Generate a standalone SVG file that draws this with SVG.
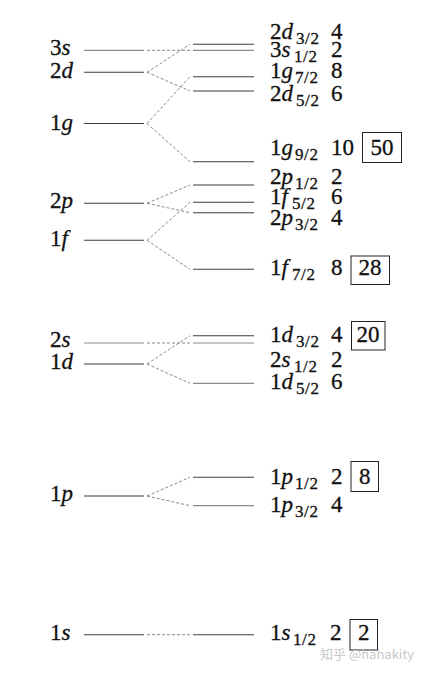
<svg xmlns="http://www.w3.org/2000/svg" width="429" height="675" viewBox="0 0 429 675">
<style>
.t text{font-family:'Liberation Serif','DejaVu Serif','Times New Roman',serif;font-size:23px;fill:#111;stroke:#111;stroke-width:0.3}
.it{font-style:italic}
.sub{font-size:17px;font-style:normal;letter-spacing:0.6px}
.lv{stroke:#3c3c3c;stroke-width:1.1;fill:none}
.lt{stroke:#8c8c8c;stroke-width:1.2;fill:none}
.dash{stroke:#6a6a6a;stroke-width:0.8;stroke-dasharray:3 2;fill:none}
.box{stroke:#222;stroke-width:1;fill:none}
.wm{font-family:'Noto Sans CJK SC','Liberation Sans',sans-serif;font-size:13px;fill:#c8c8c8}
</style>
<rect width="429" height="675" fill="#fff"/>

<g class="t">
<!-- left (unsplit) levels -->
<g id="L-3s"><line class="lt" x1="84" y1="50.3" x2="144" y2="50.3"/><text x="50" y="55">3<tspan class="it">s</tspan></text></g>
<g id="L-2d"><line class="lv" x1="84" y1="72.3" x2="144" y2="72.3"/><text x="50" y="78">2<tspan class="it">d</tspan></text></g>
<g id="L-1g"><line class="lv" x1="84" y1="123.5" x2="144" y2="123.5"/><text x="50" y="130">1<tspan class="it">g</tspan></text></g>
<g id="L-2p"><line class="lv" x1="84" y1="203.3" x2="144" y2="203.3"/><text x="50" y="208">2<tspan class="it">p</tspan></text></g>
<g id="L-1f"><line class="lv" x1="84" y1="240.3" x2="144" y2="240.3"/><text x="50" y="245.5">1<tspan class="it">f</tspan></text></g>
<g id="L-2s"><line class="lt" x1="84" y1="343" x2="144" y2="343"/><text x="50" y="347">2<tspan class="it">s</tspan></text></g>
<g id="L-1d"><line class="lv" x1="84" y1="364" x2="144" y2="364"/><text x="50" y="369">1<tspan class="it">d</tspan></text></g>
<g id="L-1p"><line class="lv" x1="84" y1="496" x2="144" y2="496"/><text x="50" y="501">1<tspan class="it">p</tspan></text></g>
<g id="L-1s"><line class="lv" x1="84" y1="634.7" x2="144" y2="634.7"/><text x="50" y="640">1<tspan class="it">s</tspan></text></g>

<!-- right (split) levels -->
<g id="R-2d32"><line class="lv" x1="193" y1="44.3" x2="254" y2="44.3"/><text x="270" y="39">2<tspan class="it">d</tspan><tspan class="sub" x="296" dy="5">3/2</tspan></text><text x="331" y="39">4</text></g>
<g id="R-3s12"><line class="lt" x1="193" y1="50.3" x2="254" y2="50.3"/><text x="270" y="57">3<tspan class="it">s</tspan><tspan class="sub" x="294" dy="5">1/2</tspan></text><text x="331" y="57">2</text></g>
<g id="R-1g72"><line class="lv" x1="193" y1="76.7" x2="254" y2="76.7"/><text x="270" y="78">1<tspan class="it">g</tspan><tspan class="sub" x="295" dy="5">7/2</tspan></text><text x="331" y="78">8</text></g>
<g id="R-2d52"><line class="lv" x1="193" y1="91" x2="254" y2="91"/><text x="270" y="101">2<tspan class="it">d</tspan><tspan class="sub" x="296" dy="5">5/2</tspan></text><text x="331" y="101">6</text></g>
<g id="R-1g92"><line class="lv" x1="193" y1="161.7" x2="254" y2="161.7"/><text x="270" y="155">1<tspan class="it">g</tspan><tspan class="sub" x="295" dy="5">9/2</tspan></text><text x="331" y="155">10</text><rect class="box" x="362.5" y="132.5" width="39" height="30"/><text x="382" y="155" text-anchor="middle">50</text></g>
<g id="R-2p12"><line class="lv" x1="193" y1="185" x2="254" y2="185"/><text x="270" y="183.5">2<tspan class="it">p</tspan><tspan class="sub" x="295" dy="5">1/2</tspan></text><text x="331" y="183.5">2</text></g>
<g id="R-1f52"><line class="lv" x1="193" y1="202.3" x2="254" y2="202.3"/><text x="270" y="204">1<tspan class="it">f</tspan><tspan class="sub" x="292" dy="5">5/2</tspan></text><text x="331" y="204">6</text></g>
<g id="R-2p32"><line class="lv" x1="193" y1="212.7" x2="254" y2="212.7"/><text x="270" y="225">2<tspan class="it">p</tspan><tspan class="sub" x="295" dy="5">3/2</tspan></text><text x="331" y="225">4</text></g>
<g id="R-1f72"><line class="lv" x1="193" y1="269.3" x2="254" y2="269.3"/><text x="270" y="275">1<tspan class="it">f</tspan><tspan class="sub" x="292" dy="5">7/2</tspan></text><text x="331" y="275">8</text><rect class="box" x="351" y="256" width="38.5" height="28.5"/><text x="370" y="275" text-anchor="middle">28</text></g>
<g id="R-1d32"><line class="lv" x1="193" y1="335.7" x2="254" y2="335.7"/><text x="270" y="342">1<tspan class="it">d</tspan><tspan class="sub" x="296" dy="5">3/2</tspan></text><text x="331" y="342">4</text><rect class="box" x="351.5" y="321.5" width="33.5" height="28.5"/><text x="368" y="342" text-anchor="middle">20</text></g>
<g id="R-2s12"><line class="lt" x1="193" y1="343" x2="254" y2="343"/><text x="270" y="366.5">2<tspan class="it">s</tspan><tspan class="sub" x="294" dy="5">1/2</tspan></text><text x="331" y="366.5">2</text></g>
<g id="R-1d52"><line class="lt" x1="193" y1="383.3" x2="254" y2="383.3"/><text x="270" y="389">1<tspan class="it">d</tspan><tspan class="sub" x="296" dy="5">5/2</tspan></text><text x="331" y="389">6</text></g>
<g id="R-1p12"><line class="lv" x1="193" y1="477.3" x2="254" y2="477.3"/><text x="270" y="484">1<tspan class="it">p</tspan><tspan class="sub" x="295" dy="5">1/2</tspan></text><text x="331" y="484">2</text><rect class="box" x="351" y="461.5" width="27.5" height="30"/><text x="364.7" y="484" text-anchor="middle">8</text></g>
<g id="R-1p32"><line class="lt" x1="193" y1="505.7" x2="254" y2="505.7"/><text x="270" y="511.5">1<tspan class="it">p</tspan><tspan class="sub" x="295" dy="5">3/2</tspan></text><text x="331" y="511.5">4</text></g>
<g id="R-1s12"><line class="lv" x1="193" y1="634.7" x2="254" y2="634.7"/><text x="270" y="640">1<tspan class="it">s</tspan><tspan class="sub" x="293" dy="5">1/2</tspan></text><text x="330" y="640">2</text><rect class="box" x="350" y="619.5" width="27.5" height="30.5"/><text x="363.7" y="640" text-anchor="middle">2</text></g>
</g>

<!-- connectors -->
<g id="connectors">
<line class="dash" x1="147" y1="50.3" x2="190" y2="50.3"/>
<line class="dash" x1="147" y1="72.3" x2="190" y2="44.3"/>
<line class="dash" x1="147" y1="72.3" x2="190" y2="91"/>
<line class="dash" x1="147" y1="123.5" x2="190" y2="76.7"/>
<line class="dash" x1="147" y1="123.5" x2="190" y2="161.7"/>
<line class="dash" x1="147" y1="203.3" x2="190" y2="185"/>
<line class="dash" x1="147" y1="203.3" x2="190" y2="212.7"/>
<line class="dash" x1="147" y1="240.3" x2="190" y2="202.3"/>
<line class="dash" x1="147" y1="240.3" x2="190" y2="269.3"/>
<line class="dash" x1="147" y1="343" x2="190" y2="343"/>
<line class="dash" x1="147" y1="364" x2="190" y2="335.7"/>
<line class="dash" x1="147" y1="364" x2="190" y2="383.3"/>
<line class="dash" x1="147" y1="496" x2="190" y2="477.3"/>
<line class="dash" x1="147" y1="496" x2="190" y2="505.7"/>
<line class="dash" x1="147" y1="634.7" x2="190" y2="634.7"/>
</g>

<text class="wm" x="320" y="659">知乎 @hahakity</text>
</svg>
